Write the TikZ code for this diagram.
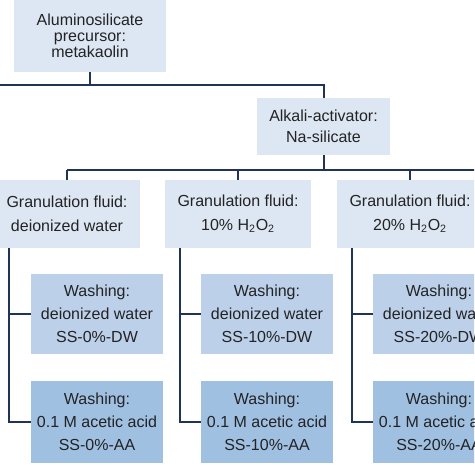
\documentclass[tikz,border=0pt]{standalone}
\usepackage{fontspec}
\setmainfont{Liberation Sans}
\definecolor{lightc}{RGB}{221,231,243}
\definecolor{dwc}{RGB}{188,208,234}
\definecolor{aac}{RGB}{160,192,226}
\definecolor{linec}{RGB}{32,52,88}
\definecolor{txt}{RGB}{35,35,35}
\begin{document}
\begin{tikzpicture}[x=0.75pt,y=-0.75pt,
  box/.style={draw=none, inner sep=0pt, align=center, text=txt},
  lightbox/.style={box, fill=lightc},
  dwbox/.style={box, fill=dwc, minimum width=99pt, minimum height=60pt, font=\fontsize{12}{17.25}\selectfont},
  aabox/.style={box, fill=aac, minimum width=99pt, minimum height=61.5pt, font=\fontsize{12}{17.25}\selectfont},
  granbox/.style={lightbox, minimum width=109.5pt, minimum height=51pt, font=\fontsize{12}{18}\selectfont},
  conn/.style={draw=linec, line width=1.5pt}]
\useasboundingbox (0,0) rectangle (474,474);
\clip (0,0) rectangle (474,474);
\fill[white] (0,0) rectangle (474,474);

\node[lightbox, minimum width=114pt, minimum height=54pt, font=\fontsize{12}{12}\selectfont] (top) at (90,36) {Aluminosilicate\\precursor:\\metakaolin};
\node[lightbox, minimum width=99.75pt, minimum height=42.75pt, font=\fontsize{12}{15.75}\selectfont] (alk) at (323.5,126.5) {Alkali-activator:\\Na-silicate};

\node[granbox] (g1) at (67,214) {Granulation fluid:\\deionized water};
\node[granbox] (g2) at (238,214) {Granulation fluid:\\10\% H\textsubscript{2}O\textsubscript{2}};
\node[granbox] (g3) at (410,214) {Granulation fluid:\\20\% H\textsubscript{2}O\textsubscript{2}};

\node[dwbox] (dw1) at (97,314) {Washing:\\deionized water\\SS-0\%-DW};
\node[dwbox] (dw2) at (267,314) {Washing:\\deionized water\\SS-10\%-DW};
\node[dwbox] (dw3) at (439,314) {Washing:\\deionized water\\SS-20\%-DW};

\node[aabox] (aa1) at (97,422) {Washing:\\0.1 M acetic acid\\SS-0\%-AA};
\node[aabox] (aa2) at (267,422) {Washing:\\0.1 M acetic acid\\SS-10\%-AA};
\node[aabox] (aa3) at (439,422) {Washing:\\0.1 M acetic acid\\SS-20\%-AA};

% top connectors
\coordinate (leftend) at (-5,85);
\draw[conn] (top.south) -- (top.south |- leftend) -| (alk.north);
\draw[conn] (top.south |- leftend) -- (leftend);

\coordinate (rightend) at (480,170);
\draw[conn] (alk.south) -- (alk.south |- rightend);
\draw[conn] (g1.north |- rightend) -- (rightend);
\draw[conn] (g1.north |- rightend) -- (g1.north);
\draw[conn] (g2.north |- rightend) -- (g2.north);
\draw[conn] (g3.north |- rightend) -- (g3.north);

% trees
\coordinate (t1) at (9,248);
\coordinate (t2) at (180,248);
\coordinate (t3) at (352,248);
\draw[conn] (t1) |- (aa1.west);
\draw[conn] (t1 |- dw1.west) -- (dw1.west);
\draw[conn] (t2) |- (aa2.west);
\draw[conn] (t2 |- dw2.west) -- (dw2.west);
\draw[conn] (t3) |- (aa3.west);
\draw[conn] (t3 |- dw3.west) -- (dw3.west);
\end{tikzpicture}
\end{document}
